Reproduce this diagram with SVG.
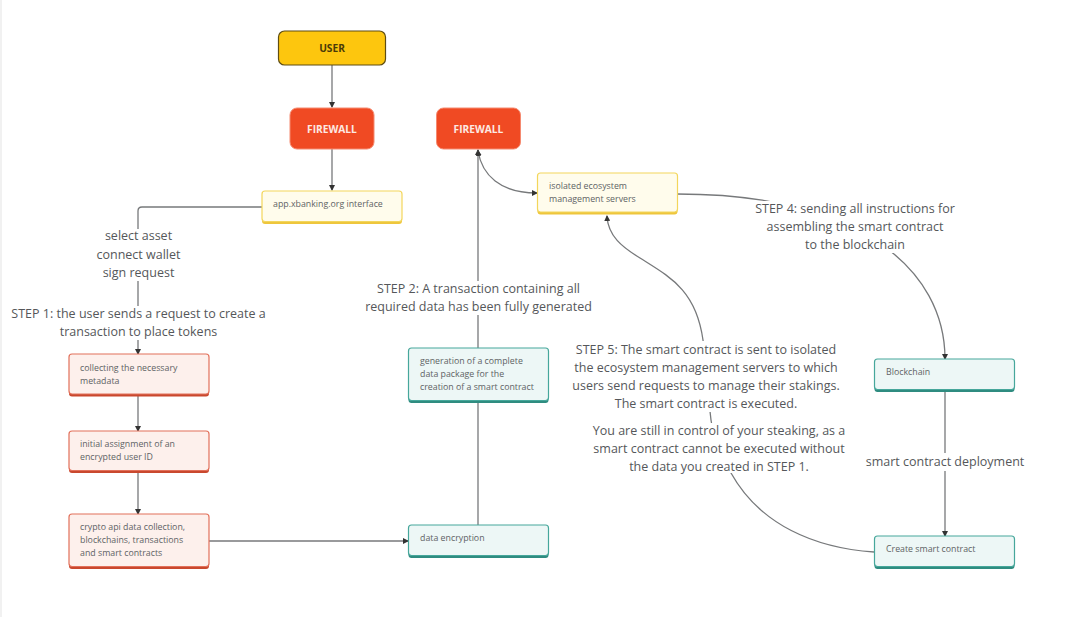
<svg xmlns="http://www.w3.org/2000/svg" width="1080" height="617" viewBox="0 0 1080 617">
<style>
text{font-family:"Open Sans","Noto Sans","DejaVu Sans",sans-serif}
.n{font-size:8.8px;fill:#606365}
.l{font-size:12.5px;fill:#55575a;text-anchor:middle}
.h{font-size:10.2px;font-weight:700;text-anchor:middle}
.c{fill:none;stroke:#77797b;stroke-width:1.3}
.red{fill:#fdf0ec;stroke:#e2705a;stroke-width:1.2}
.redb{fill:#c9482e}
.teal{fill:#edf7f6;stroke:#46a79b;stroke-width:1.2}
.tealb{fill:#2f8c80}
.yel{fill:#fffcec;stroke:#f3d65c;stroke-width:1.2}
.yelb{fill:#eec63c}
.fw{fill:#f04a23;stroke:#f58a70;stroke-width:1}
</style>
<defs>
<marker id="a" markerWidth="6" markerHeight="6" refX="5" refY="3" orient="auto" markerUnits="userSpaceOnUse"><path d="M0,0L6,3L0,6z" fill="#333"/></marker>
<marker id="s" markerWidth="6" markerHeight="6" refX="5" refY="3" orient="auto-start-reverse" markerUnits="userSpaceOnUse"><path d="M0,0L6,3L0,6z" fill="#333"/></marker>
</defs>
<rect width="1080" height="617" fill="#fff"/>
<rect width="2" height="617" fill="#f1f1f1"/>
<g id="connectors">
<path class="c" marker-end="url(#a)" d="M332,65V107"/>
<path class="c" marker-end="url(#a)" d="M332,149V190"/>
<path class="c" marker-end="url(#a)" d="M262,207H142Q138,207 138,211V354"/>
<path class="c" marker-end="url(#a)" d="M138,396V431"/>
<path class="c" marker-end="url(#a)" d="M138,472V514"/>
<path class="c" marker-end="url(#a)" d="M209,541H408"/>
<path class="c" d="M478,525V402"/>
<path class="c" marker-end="url(#a)" d="M478,348V150"/>
<path class="c" marker-start="url(#s)" marker-end="url(#a)" d="M478,151C482,175 500,193 537,193"/>
<path class="c" marker-end="url(#a)" d="M677,194C860,194 945,270 945,359"/>
<path class="c" marker-end="url(#a)" d="M945,391V536"/>
<path class="c" marker-end="url(#a)" d="M874,552C815,548 760,525 731,473C720,452 713,435 711,420C708,395 706,365 703,340C696,290 670,277 640,258C622,247 608,236 607,216"/>
</g>
<g id="labels">
<rect x="95" y="229" width="86" height="52" fill="#fff"/>
<text class="l" x="138.500" y="240">select asset</text>
<text class="l" x="138.500" y="258.500">connect wallet</text>
<text class="l" x="138.500" y="277">sign request</text>
<rect x="8" y="306" width="262" height="34" fill="#fff"/>
<text class="l" x="138.500" y="318">STEP 1: the user sends a request to create a</text>
<text class="l" x="138.500" y="336">transaction to place tokens</text>
<rect x="362" y="281" width="234" height="34" fill="#fff"/>
<text class="l" x="478.500" y="293">STEP 2: A transaction containing all</text>
<text class="l" x="478.500" y="311">required data has been fully generated</text>
<rect x="752" y="201" width="208" height="52" fill="#fff"/>
<text class="l" x="855" y="213">STEP 4: sending all instructions for</text>
<text class="l" x="855" y="231">assembling the smart contract</text>
<text class="l" x="855" y="249">to the blockchain</text>
<rect x="570" y="341" width="272" height="71" fill="#fff"/>
<text class="l" x="706" y="354">STEP 5: The smart contract is sent to isolated</text>
<text class="l" x="706" y="372">the ecosystem management servers to which</text>
<text class="l" x="706" y="390">users send requests to manage their stakings.</text>
<text class="l" x="706" y="408">The smart contract is executed.</text>
<rect x="588" y="423" width="262" height="50" fill="#fff"/>
<text class="l" x="719" y="435">You are still in control of your steaking, as a</text>
<text class="l" x="719" y="453">smart contract cannot be executed without</text>
<text class="l" x="719" y="471">the data you created in STEP 1.</text>
<rect x="864" y="453" width="162" height="18" fill="#fff"/>
<text class="l" x="945" y="466">smart contract deployment</text>
</g>
<g id="user"><rect x="278.500" y="31" width="107" height="34" rx="6" fill="#fdc60e" stroke="#5f4d12" stroke-width="1.200"/><text class="h" x="332" y="52" fill="#4a3a08">USER</text></g>
<g id="firewall-1"><rect class="fw" x="290" y="108" width="84" height="41" rx="7"/><text class="h" x="332" y="133" fill="#fde9e2">FIREWALL</text></g>
<g id="firewall-2"><rect class="fw" x="436.500" y="108" width="84" height="41" rx="7"/><text class="h" x="478.500" y="133" fill="#fde9e2">FIREWALL</text></g>
<g id="app"><rect class="yelb" x="262" y="193" width="140" height="31" rx="3"/><rect class="yel" x="262" y="191" width="140" height="30.500" rx="3"/><text class="n" x="273" y="207">app.xbanking.org interface</text></g>
<g id="metadata"><rect class="redb" x="69" y="356" width="140" height="40.500" rx="3"/><rect class="red" x="69" y="354" width="140" height="40" rx="3"/><text class="n" x="80" y="371">collecting the necessary</text><text class="n" x="80" y="384">metadata</text></g>
<g id="user-id"><rect class="redb" x="69" y="433" width="140" height="40" rx="3"/><rect class="red" x="69" y="431" width="140" height="39.500" rx="3"/><text class="n" x="80" y="447">initial assignment of an</text><text class="n" x="80" y="460">encrypted user ID</text></g>
<g id="crypto-api"><rect class="redb" x="69" y="516" width="140" height="53" rx="3"/><rect class="red" x="69" y="514" width="140" height="52.500" rx="3"/><text class="n" x="80" y="530">crypto api data collection,</text><text class="n" x="80" y="543">blockchains, transactions</text><text class="n" x="80" y="556">and smart contracts</text></g>
<g id="data-package"><rect class="tealb" x="408.500" y="350" width="140" height="53" rx="3"/><rect class="teal" x="408.500" y="348" width="140" height="52.500" rx="3"/><text class="n" x="420" y="364">generation of a complete</text><text class="n" x="420" y="377">data package for the</text><text class="n" x="420" y="390">creation of a smart contract</text></g>
<g id="data-encryption"><rect class="tealb" x="408.500" y="527" width="140" height="31" rx="3"/><rect class="teal" x="408.500" y="525" width="140" height="30.500" rx="3"/><text class="n" x="420" y="541">data encryption</text></g>
<g id="isolated"><rect class="yelb" x="537.500" y="175" width="140" height="39.500" rx="3"/><rect class="yel" x="537.500" y="173" width="140" height="39" rx="3"/><text class="n" x="549" y="189">isolated ecosystem</text><text class="n" x="549" y="202">management servers</text></g>
<g id="blockchain"><rect class="tealb" x="874.500" y="361" width="140" height="31" rx="3"/><rect class="teal" x="874.500" y="359" width="140" height="30.500" rx="3"/><text class="n" x="886" y="375">Blockchain</text></g>
<g id="create"><rect class="tealb" x="874.500" y="538" width="140" height="31" rx="3"/><rect class="teal" x="874.500" y="536" width="140" height="30.500" rx="3"/><text class="n" x="886" y="552">Create smart contract</text></g>
</svg>
